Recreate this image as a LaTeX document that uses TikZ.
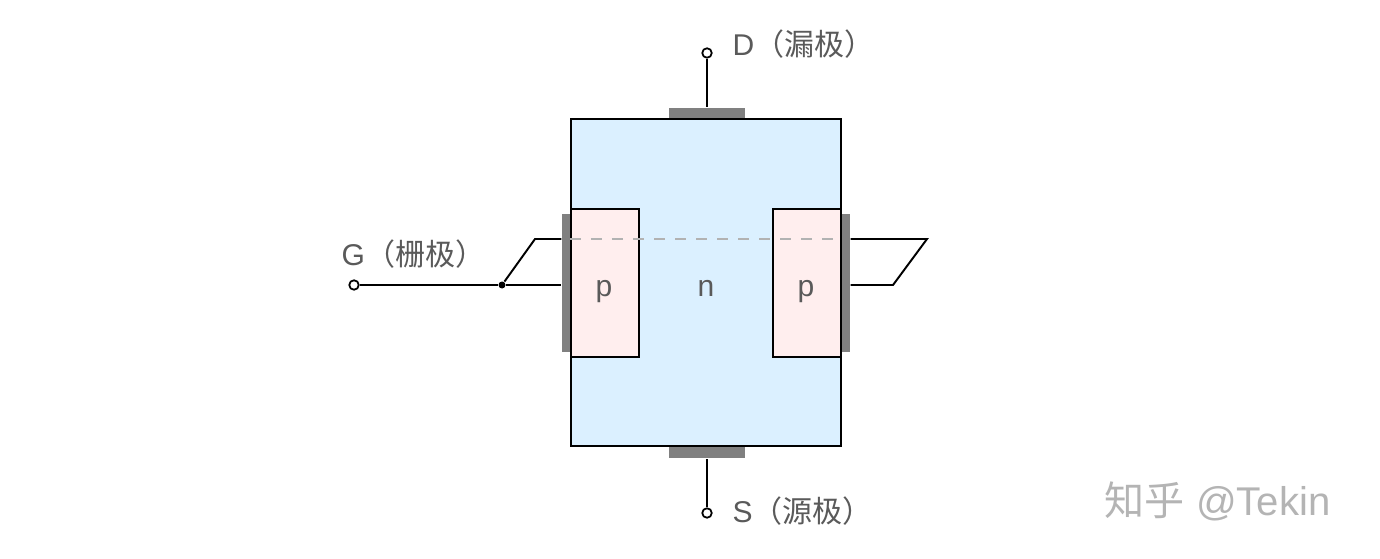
\documentclass[tikz,border=0pt]{standalone}
\usepackage{fontspec}
\setmainfont{Liberation Sans}
\newfontfamily\cjk{Noto Sans CJK SC}
\definecolor{nblue}{HTML}{DBF0FF}
\definecolor{ppink}{HTML}{FFEEEE}
\definecolor{padgray}{HTML}{808080}
\definecolor{labelgray}{HTML}{5A5A5A}
\definecolor{markgray}{HTML}{B4B4B4}
\tikzset{
	lbl/.style={inner sep=0pt,anchor=base west,text=labelgray,font=\fontsize{8.54}{10}\selectfont},
	region/.style={draw=black,line width=0.55pt,inner sep=0pt,text=labelgray,font=\fontsize{8.54}{10}\selectfont},
	pad/.style={fill=padgray,inner sep=0pt},
	wire/.style={line width=0.55pt,line join=miter},
	term/.style={circle,draw=black,fill=white,line width=0.5pt,inner sep=0pt,minimum size=0.095cm},
	dot/.style={circle,fill=black,inner sep=0pt,minimum size=0.07cm}
}
\begin{document}
\begin{tikzpicture}[x=0.01cm,y=-0.01cm]
	\useasboundingbox (0,0) rectangle (1380,558);
	\node[pad,minimum width=0.76cm,minimum height=0.11cm] (dpad) at (707,113.5) {};
	\node[pad,minimum width=0.76cm,minimum height=0.12cm] (spad) at (707,452) {};
	\node[pad,minimum width=0.09cm,minimum height=1.38cm] (lpad) at (566.5,283) {};
	\node[pad,minimum width=0.09cm,minimum height=1.38cm] (rpad) at (845.5,283) {};
	\node[region,fill=nblue,minimum width=2.7cm,minimum height=3.27cm] (nreg) at (706,282.5) {};
	\node[region,fill=ppink,minimum width=0.68cm,minimum height=1.48cm] (lp) at (605,283) {};
	\node[region,fill=ppink,minimum width=0.68cm,minimum height=1.48cm] (rp) at (807,283) {};
	\node[text=labelgray,font=\fontsize{8.54}{10}\selectfont,inner sep=0pt,anchor=base] (nlbl) at (706,296) {n};
	\node[text=labelgray,font=\fontsize{8.54}{10}\selectfont,inner sep=0pt,anchor=base] (lplbl) at (604,296) {p};
	\node[text=labelgray,font=\fontsize{8.54}{10}\selectfont,inner sep=0pt,anchor=base] (rplbl) at (806,296) {p};
	\node[term] (d) at (707,53) {};
	\node[term] (s) at (707,513) {};
	\node[term] (g) at (354,285) {};
	\node[dot] (j) at (502,285) {};
	\node[lbl] (dlbl) at (732,56) {D{\cjk（漏极）}};
	\node[lbl] (slbl) at (732,522) {S{\cjk（源极）}};
	\node[lbl] (glbl) at (341,265) {G{\cjk（栅极）}};
	\node[inner sep=0pt,anchor=base west,text=markgray,font=\fontsize{11.4}{13}\selectfont] (mark) at (1104,515) {{\cjk 知乎} @Tekin};
	\coordinate (lu) at (lpad.west |- 0,239);
	\coordinate (ll) at (lpad.west |- 0,285);
	\coordinate (ru) at (rpad.east |- 0,239);
	\coordinate (rl) at (rpad.east |- 0,285);
	\coordinate (k1) at (535,239);
	\coordinate (k2) at (927,239);
	\coordinate (k3) at (893,285);
	\coordinate (da) at (nreg.west |- 0,239);
	\coordinate (db) at (nreg.east |- 0,239);
	\draw[wire] (d) -- (dpad);
	\draw[wire] (s) -- (spad);
	\draw[wire] (g) -- (j) -- (ll);
	\draw[wire] (j) -- (k1) -- (lu);
	\draw[wire] (ru) -- (k2) -- (k3) -- (rl);
	\draw[line width=0.35pt,draw=black!30,dash pattern=on 0.11cm off 0.1cm] (da) -- (db);
\end{tikzpicture}
\end{document}
